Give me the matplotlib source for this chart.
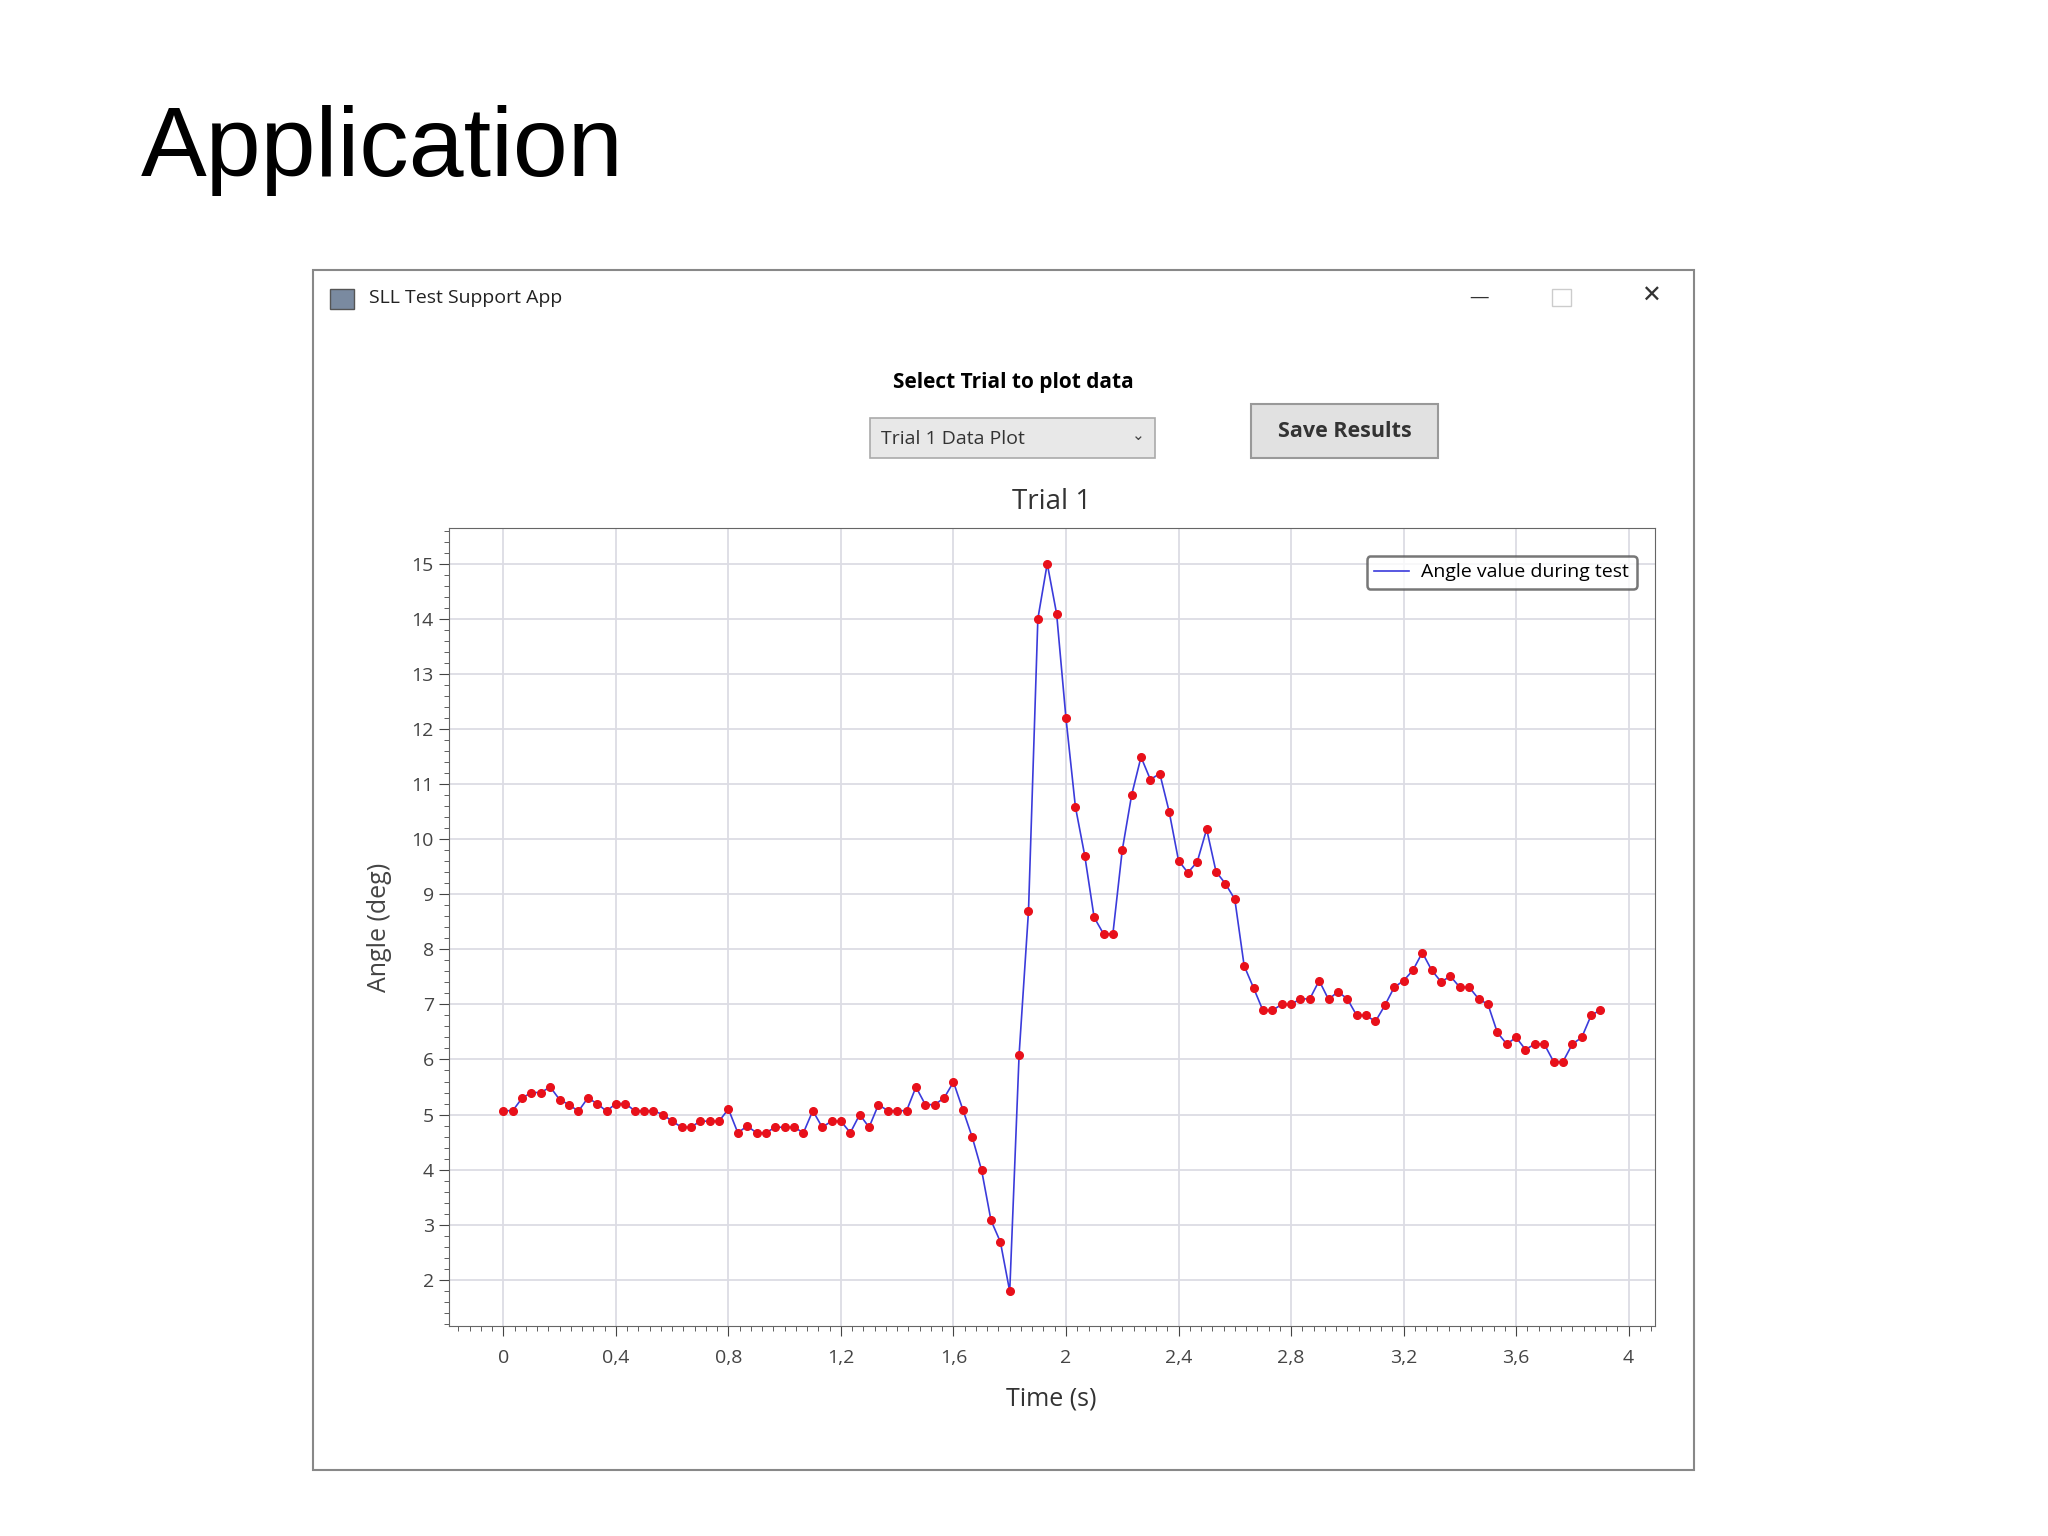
import numpy as np
import matplotlib
matplotlib.use("Agg")
import matplotlib.pyplot as plt
from matplotlib.patches import Rectangle
from matplotlib.ticker import MultipleLocator, FuncFormatter

plt.rcParams['font.family'] = ['Open Sans', 'DejaVu Sans']

dt = 1/30
angle = [5.07, 5.07, 5.3, 5.4, 5.4, 5.5, 5.27, 5.18, 5.06, 5.3, 5.2, 5.06, 5.2, 5.2, 5.07, 5.07,
         5.07, 5.0, 4.88, 4.77, 4.77, 4.88, 4.88, 4.88, 5.1, 4.67, 4.79, 4.67, 4.67, 4.77, 4.77,
         4.77, 4.67, 5.07, 4.77, 4.88, 4.88, 4.67, 5.0, 4.77, 5.18, 5.07, 5.07, 5.07, 5.5, 5.18,
         5.18, 5.3, 5.59, 5.09, 4.59, 3.99, 3.08, 2.69, 1.79, 6.09, 8.69, 14.0, 15.0, 14.09,
         12.19, 10.59, 9.70, 8.58, 8.28, 8.28, 9.80, 10.8, 11.49, 11.08, 11.19, 10.5, 9.61, 9.39,
         9.59, 10.18, 9.41, 9.19, 8.91, 7.70, 7.30, 6.89, 6.89, 7.0, 7.0, 7.1, 7.1, 7.43, 7.09,
         7.23, 7.1, 6.8, 6.8, 6.69, 6.98, 7.31, 7.43, 7.62, 7.94, 7.62, 7.41, 7.51, 7.31, 7.31,
         7.1, 7.0, 6.49, 6.28, 6.4, 6.18, 6.28, 6.28, 5.96, 5.96, 6.28, 6.4, 6.8, 6.9]
time = np.arange(len(angle)) * dt

fig = plt.figure(figsize=(20.48, 15.36), dpi=100)
fig.patch.set_facecolor('white')

fig.text(0.069, 0.902, "Application", fontsize=71, family=['Liberation Sans', 'DejaVu Sans'],
         va='center', ha='left')

# window frame
fig.patches.append(Rectangle((0.153, 0.043), 0.674, 0.781, transform=fig.transFigure,
                             fill=False, edgecolor='#888888', linewidth=1.5))
fig.patches.append(Rectangle((0.161, 0.799), 0.012, 0.013, transform=fig.transFigure,
                             facecolor='#7a8aa0', edgecolor='#555555', linewidth=1))
fig.text(0.180, 0.806, "SLL Test Support App", fontsize=14, va='center', color='#222222')
fig.text(0.722, 0.806, "—", fontsize=14, va='center', ha='center', color='#333333')
fig.patches.append(Rectangle((0.758, 0.801), 0.009, 0.011, transform=fig.transFigure,
                             fill=False, edgecolor='#cccccc', linewidth=1))
fig.text(0.806, 0.807, "✕", fontsize=17, va='center', ha='center', color='#333333')

fig.text(0.495, 0.751, "Select Trial to plot data", fontsize=15, weight='bold', ha='center', va='center')
fig.patches.append(Rectangle((0.425, 0.702), 0.139, 0.026, transform=fig.transFigure,
                             facecolor='#e8e8e8', edgecolor='#aaaaaa', linewidth=1.2))
fig.text(0.430, 0.714, "Trial 1 Data Plot", fontsize=14, va='center', color='#333333')
fig.text(0.556, 0.716, "⌄", fontsize=11, va='center', ha='center', color='#444444')
fig.patches.append(Rectangle((0.611, 0.702), 0.091, 0.035, transform=fig.transFigure,
                             facecolor='#e1e1e1', edgecolor='#999999', linewidth=1.5))
fig.text(0.6565, 0.719, "Save Results", fontsize=15.5, weight='bold', ha='center', va='center', color='#333333')

ax = fig.add_axes([0.219, 0.137, 0.589, 0.519])
ax.plot(time, angle, color='#3b3bdb', linewidth=1.2, label='Angle value during test', zorder=3)
ax.plot(time, angle, 'o', color='#e8101a', markersize=5.5, zorder=4)
ax.set_xlim(-0.195, 4.093)
ax.set_ylim(1.17, 15.64)
ax.xaxis.set_major_locator(MultipleLocator(0.4))
ax.xaxis.set_minor_locator(MultipleLocator(0.04))
ax.yaxis.set_major_locator(MultipleLocator(1))
ax.yaxis.set_minor_locator(MultipleLocator(0.2))
ax.xaxis.set_major_formatter(FuncFormatter(lambda v, p: ('%g' % round(v, 1)).replace('.', ',')))
ax.grid(True, which='major', color='#dcdce4', linewidth=1.3)
ax.tick_params(which='major', length=7, labelsize=14, colors='#444444')
ax.tick_params(axis='x', which='major', pad=10)
ax.tick_params(which='minor', length=3.5, colors='#444444')
for s in ax.spines.values():
    s.set_color('#666666')
ax.set_title("Trial 1", fontsize=20, color='#333333', pad=14)
ax.set_xlabel("Time (s)", fontsize=18, color='#333333', labelpad=14)
ax.set_ylabel("Angle (deg)", fontsize=18, color='#444444', labelpad=14)
leg = ax.legend(loc='upper right', fontsize=14, frameon=True, fancybox=True, handlelength=1.8,
                handletextpad=0.6, borderpad=0.4, bbox_to_anchor=(0.993, 0.978))
leg.get_frame().set_edgecolor('#555555')
leg.get_frame().set_linewidth(1.8)

fig.savefig("out.png", dpi=100)
